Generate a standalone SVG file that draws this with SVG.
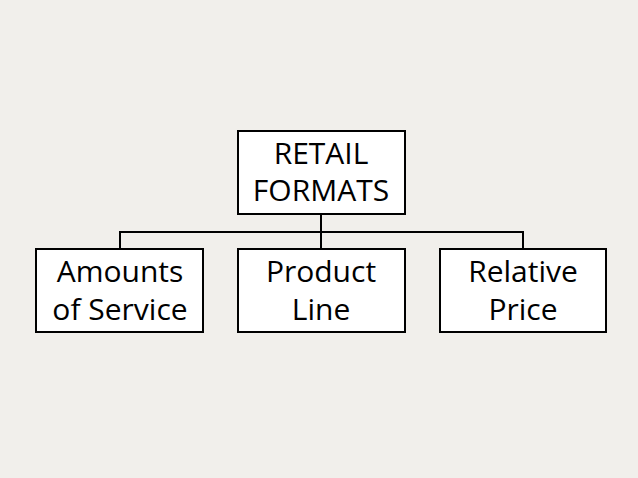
<svg xmlns="http://www.w3.org/2000/svg" width="638" height="478" viewBox="0 0 638 478">
<style>
.b{fill:#fff;stroke:#000;stroke-width:2}
.t{font-family:"Open Sans","Liberation Sans",sans-serif;font-size:30px;fill:#000;text-anchor:middle}
.c{fill:none;stroke:#000;stroke-width:2}
</style>
<rect width="638" height="478" fill="#f1efeb"/>
<g id="connectors">
<path class="c" d="M321 214V232M120 249V232H523V249M321 232V249"/>
</g>
<g id="retail"><rect class="b" x="238" y="131" width="167" height="83"/><text class="t" x="321" y="164">RETAIL</text><text class="t" x="321" y="201">FORMATS</text></g>
<g id="service"><rect class="b" x="36" y="249" width="167" height="83"/><text class="t" x="120" y="282">Amounts</text><text class="t" x="120" y="320">of Service</text></g>
<g id="product"><rect class="b" x="238" y="249" width="167" height="83"/><text class="t" x="321" y="282">Product</text><text class="t" x="321" y="320">Line</text></g>
<g id="price"><rect class="b" x="440" y="249" width="166" height="83"/><text class="t" x="523" y="282">Relative</text><text class="t" x="523" y="320">Price</text></g>
</svg>
